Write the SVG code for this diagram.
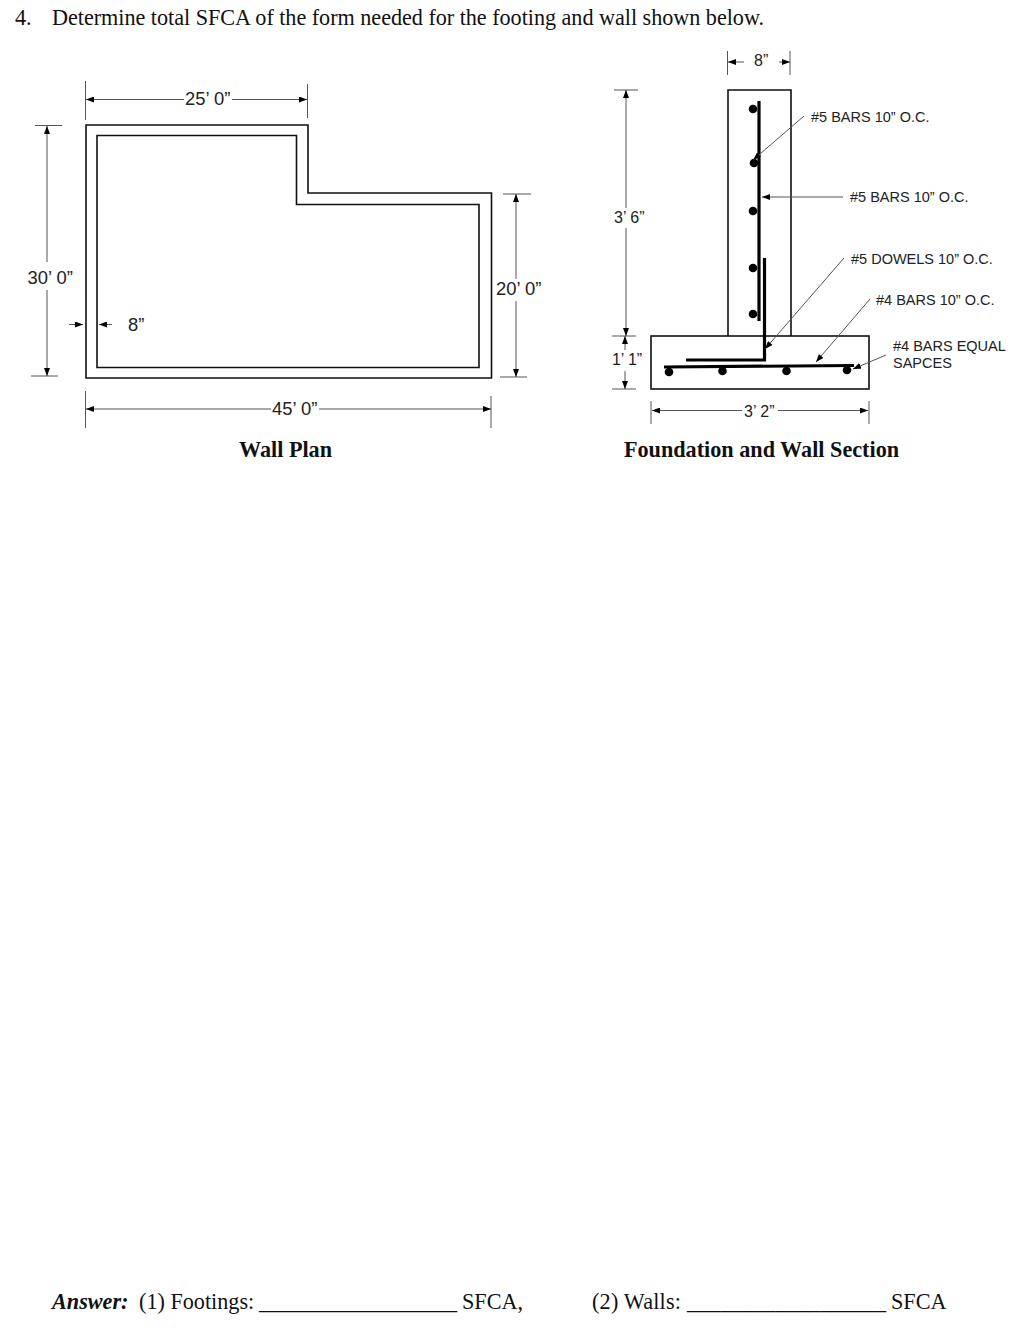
<svg xmlns="http://www.w3.org/2000/svg" width="1018" height="1334" viewBox="0 0 1018 1334">
<style>
.t{font-family:"Liberation Serif",serif;fill:#111}
.q{font-size:22.2px}
.cap{font-size:22.2px;font-weight:bold;text-anchor:middle}
.d{font-family:"Liberation Sans",sans-serif;font-size:18.4px;fill:#222}
.s{font-family:"Liberation Sans",sans-serif;font-size:16px;fill:#222}
.n{font-family:"Liberation Sans",sans-serif;font-size:14.5px;fill:#222}
.w{fill:none;stroke:#111;stroke-width:1.6}
.l{fill:none;stroke:#555;stroke-width:1}
.a{fill:none;stroke:#555;stroke-width:1;marker-end:url(#ah)}
.r{fill:none;stroke:#000;stroke-width:3.2}
.b{fill:#000}
</style>
<defs>
<marker id="ah" markerUnits="userSpaceOnUse" markerWidth="8" markerHeight="6" refX="8" refY="3" orient="auto"><path d="M0 0L8 3L0 6z" fill="#000"/></marker>
</defs>
<rect width="1018" height="1334" fill="#fff"/>
<text class="t q" x="15" y="25">4.</text>
<text class="t q" x="52" y="25" textLength="712" lengthAdjust="spacing">Determine total SFCA of the form needed for the footing and wall shown below.</text>
<g id="wall-plan">
<path class="w" d="M86 125H308V193H491.500V378H86Z"/>
<path class="w" d="M97 135.500H296.500V204.500H479V367.500H97Z"/>
</g>
<g id="wall-section">
<path class="w" d="M728 336V90H791V336"/>
<rect class="w" x="651" y="336" width="218" height="53"/>
<path class="r" d="M759 101V321"/>
<path class="r" d="M764.500 258V360H686"/>
<path class="r" d="M664 367L854 365.500"/>
<g class="b">
<circle cx="753" cy="109" r="4.300"/><circle cx="754" cy="163" r="4.300"/><circle cx="753" cy="211" r="4.300"/><circle cx="753" cy="268" r="4.300"/><circle cx="753" cy="314" r="4.300"/>
<circle cx="669" cy="372" r="4.300"/><circle cx="722.500" cy="371" r="4.300"/><circle cx="786.500" cy="371" r="4.300"/><circle cx="847" cy="370" r="4.300"/>
</g>
</g>
<g id="connectors">
<path class="l" d="M85.500 81V120M307.500 84V118M35 125.500H62M31 376H58M503 194H531M500 377H527M85.500 391V428M491 396V428M727.500 51V75M790 51V75M614 90H638M612 336H636M612 389H636M651 401V424M869 401V424"/>
<path class="a" d="M184 99.500H86"/><path class="a" d="M232 99.500H307"/>
<path class="a" d="M47 262V126"/><path class="a" d="M47 290V376"/>
<path class="a" d="M516 279V194"/><path class="a" d="M516 301V377"/>
<path class="a" d="M271 409H86"/><path class="a" d="M319 409H491"/>
<path class="a" d="M69 324.500H83"/><path class="a" d="M112 324.500H99"/>
<path class="a" d="M744 62H728"/><path class="a" d="M779 62H790"/>
<path class="a" d="M626 208V90"/><path class="a" d="M626 228V336"/>
<path class="a" d="M625 350V336"/><path class="a" d="M625 371V389"/>
<path class="a" d="M742 410.500H652"/><path class="a" d="M778 410.500H868"/>
<path class="a" d="M804 116L753 160"/>
<path class="a" d="M843 197H762"/>
<path class="a" d="M844 258L765 349"/>
<path class="a" d="M870 299L816 362"/>
<path class="a" d="M886 355L853 369"/>
</g>
<g id="labels">
<text class="d" x="185" y="105">25’ 0”</text>
<text class="d" x="27.500" y="284">30’ 0”</text>
<text class="d" x="496" y="295">20’ 0”</text>
<text class="d" x="128" y="331">8”</text>
<text class="d" x="272" y="415">45’ 0”</text>
<text class="s" x="754" y="66">8”</text>
<text class="s" x="614" y="223">3’ 6”</text>
<text class="s" x="612" y="365" textLength="30">1’ 1”</text>
<text class="s" x="744" y="417">3’ 2”</text>
<text class="n" x="811" y="122">#5 BARS 10” O.C.</text>
<text class="n" x="850" y="202">#5 BARS 10” O.C.</text>
<text class="n" x="851" y="264">#5 DOWELS 10” O.C.</text>
<text class="n" x="876" y="305">#4 BARS 10” O.C.</text>
<text class="n" x="893" y="351">#4 BARS EQUAL</text>
<text class="n" x="893" y="368">SAPCES</text>
<text class="t cap" x="285.500" y="457">Wall Plan</text>
<text class="t cap" x="761.500" y="457">Foundation and Wall Section</text>
<text class="t q" x="52" y="1309" font-weight="bold" font-style="italic">Answer:</text>
<text class="t q" x="139" y="1309">(1) Footings:</text>
<text class="t q" x="259" y="1309" textLength="198">__________________</text>
<text class="t q" x="462" y="1309">SFCA,</text>
<text class="t q" x="592" y="1309" textLength="89">(2) Walls:</text>
<text class="t q" x="687" y="1309" textLength="199">__________________</text>
<text class="t q" x="891" y="1309">SFCA</text>
</g>
</svg>
